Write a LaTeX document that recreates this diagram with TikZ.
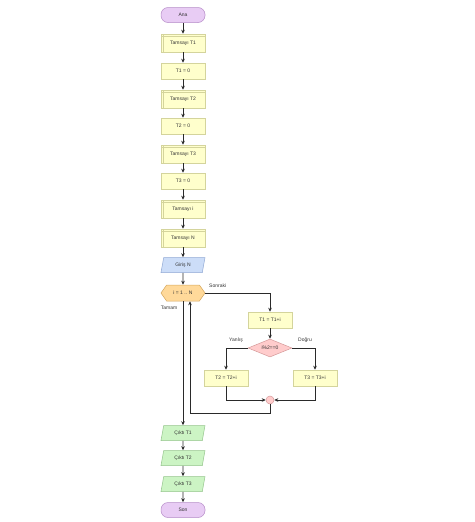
\documentclass[tikz,border=0pt]{standalone}
\usepackage{fontspec}
\setmainfont{Liberation Sans}
\usetikzlibrary{shapes.geometric,shapes.symbols,arrows.meta}
\definecolor{termF}{HTML}{E8CCF4}\definecolor{termD}{HTML}{B68CC8}
\definecolor{procF}{HTML}{FFFFCC}\definecolor{procD}{HTML}{D4D49C}
\definecolor{inF}{HTML}{CCDDF8}\definecolor{inD}{HTML}{90A8D4}
\definecolor{loopF}{HTML}{FFD99A}\definecolor{loopD}{HTML}{D4A65C}
\definecolor{decF}{HTML}{FFCCCC}\definecolor{decD}{HTML}{D49898}
\definecolor{outF}{HTML}{CCF4C4}\definecolor{outD}{HTML}{94C48C}
\definecolor{lineC}{HTML}{2A2A2A}
\begin{document}
\begin{tikzpicture}[x=1pt,y=-1pt,font=\fontsize{5}{6}\selectfont,
  base/.style={draw,line width=0.5pt,inner sep=1pt,text=black!80},
  term/.style={base,fill=termF,draw=termD,rounded corners=7pt,minimum width=44pt,minimum height=15pt},
  proc/.style={base,fill=procF,draw=procD,minimum width=44pt,minimum height=16pt},
  decl/.style={proc,minimum height=18pt,path picture={
     \draw[procD,line width=0.4pt] ([xshift=2.5pt]path picture bounding box.north west) -- ([xshift=2.5pt]path picture bounding box.south west);
     \draw[procD,line width=0.4pt] ([yshift=-2.5pt]path picture bounding box.north west) -- ([yshift=-2.5pt]path picture bounding box.north east);}},
  inp/.style={base,trapezium,trapezium left angle=68,trapezium right angle=112,trapezium stretches body,minimum width=44pt,minimum height=15pt},
  loopst/.style={base,fill=loopF,draw=loopD,signal,signal to=east and west,signal pointer angle=110,minimum width=44pt,minimum height=16pt},
  dec/.style={base,fill=decF,draw=decD,diamond,aspect=2.6,minimum width=44pt,minimum height=18pt,inner sep=0pt},
  junc/.style={draw=decD,fill=decF,circle,minimum size=8pt,inner sep=0pt,line width=0.5pt},
  arr/.style={draw=lineC,line width=0.9pt,-{Stealth[length=4pt,width=3.6pt]}},
  lbl/.style={text=black!80,inner sep=0pt}]
\useasboundingbox (0,0) rectangle (474,522);
\node[term] (ana) at (183,15) {Ana};
\node[decl] (d1) at (183,43) {Tamsayı T1};
\node[proc] (a1) at (183,71) {T1 = 0};
\node[decl] (d2) at (183,99) {Tamsayı T2};
\node[proc] (a2) at (183,126) {T2 = 0};
\node[decl] (d3) at (183,154) {Tamsayı T3};
\node[proc] (a3) at (183,181) {T3 = 0};
\node[decl] (di) at (183,209) {Tamsayı i};
\node[decl] (dn) at (183,238) {Tamsayı N};
\node[inp,fill=inF,draw=inD] (in) at (183,265) {Giriş N};
\node[loopst] (loop) at (183,293) {i = 1 .. N};
\node[proc] (p1) at (270,320) {T1 = T1+i};
\node[dec] (dc) at (270,348) {i\%2==0};
\node[proc] (p2) at (226,378) {T2 = T2+i};
\node[proc] (p3) at (315,378) {T3 = T3+i};
\node[junc] (j) at (270,400) {};
\node[inp,fill=outF,draw=outD] (o1) at (183,433) {Çıktı T1};
\node[inp,fill=outF,draw=outD] (o2) at (183,458) {Çıktı T2};
\node[inp,fill=outF,draw=outD] (o3) at (183,484) {Çıktı T3};
\node[term] (son) at (183,510) {Son};
\coordinate (lp) at (270,413);
\coordinate (lb) at (190,413);
\foreach \a/\b in {ana/d1,d1/a1,a1/d2,d2/a2,a2/d3,d3/a3,a3/di,di/dn,dn/in,in/loop,p1/dc,o1/o2,o2/o3,o3/son}
  \draw[arr] (\a) -- (\b);
\draw[arr] (loop.east) -| (p1.north);
\node[lbl,anchor=west] (sl) at (209,286) {Sonraki};
\draw[arr] (dc.west) -| (p2.north);
\draw[arr] (dc.east) -| (p3.north);
\node[lbl] (yl) at (236,340) {Yanlış};
\node[lbl] (dl) at (305,340) {Doğru};
\draw[arr] (p2.south) |- (j.west);
\draw[arr] (p3.south) |- (j.east);
\draw[arr] (j.south) -- (lp) -- (lb) -- (loop.south -| lb);
\draw[arr] (loop.south -| o1.north) -- (o1.north);
\node[lbl] (tl) at (169,308) {Tamam};
\end{tikzpicture}
\end{document}
